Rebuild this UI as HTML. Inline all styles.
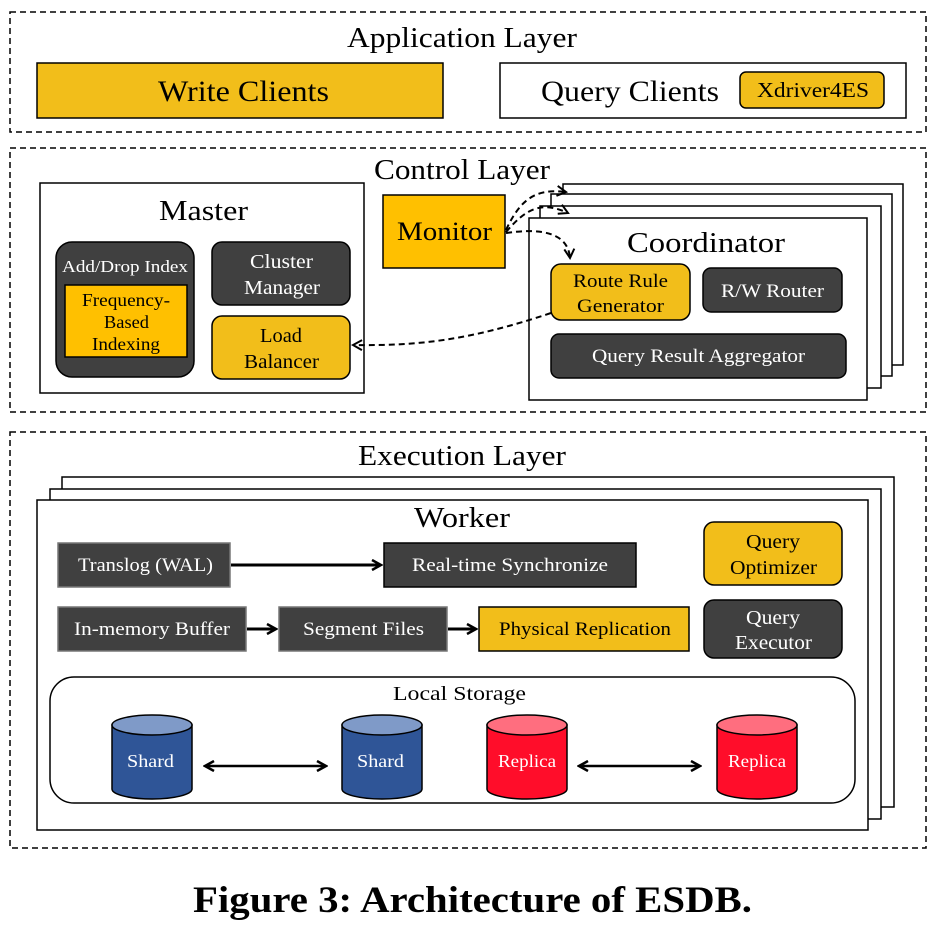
<!DOCTYPE html>
<html><head><meta charset="utf-8"><style>
html,body{margin:0;padding:0;background:#fff;}
svg{display:block;font-family:"Liberation Serif",serif;}
</style></head><body>
<svg width="932" height="925" viewBox="0 0 932 925" xmlns="http://www.w3.org/2000/svg">
<defs>
<marker id="oa" viewBox="0 0 12 12" refX="10" refY="6" markerWidth="12" markerHeight="12" markerUnits="userSpaceOnUse" orient="auto-start-reverse"><path d="M1,1 L10,6 L1,11" fill="none" stroke="#000" stroke-width="2"/></marker>
<marker id="sa" viewBox="0 0 12 12" refX="10" refY="6" markerWidth="12" markerHeight="12" markerUnits="userSpaceOnUse" orient="auto-start-reverse"><path d="M1,1 L10,6 L1,11" fill="none" stroke="#000" stroke-width="2.5"/></marker>
</defs>
<g fill="none" stroke="#000" stroke-width="1.5" stroke-dasharray="6,4">
<rect x="10" y="12" width="916" height="120"/>
<rect x="10" y="148" width="916" height="264"/>
<rect x="10" y="432" width="916" height="416"/>
</g>
<g font-size="28" lengthAdjust="spacingAndGlyphs">
<text x="347" y="47" textLength="230" lengthAdjust="spacingAndGlyphs">Application Layer</text>
<text x="374" y="179" textLength="176" lengthAdjust="spacingAndGlyphs">Control Layer</text>
<text x="358" y="465" textLength="208" lengthAdjust="spacingAndGlyphs">Execution Layer</text>
</g>
<!-- Application -->
<rect x="37" y="63" width="406" height="55" fill="#F2BE1A" stroke="#000" stroke-width="1.5"/>
<text x="158" y="101" font-size="30" textLength="171" lengthAdjust="spacingAndGlyphs">Write Clients</text>
<rect x="500" y="63" width="406" height="55" fill="#fff" stroke="#000" stroke-width="1.5"/>
<text x="541" y="101" font-size="30" textLength="178" lengthAdjust="spacingAndGlyphs">Query Clients</text>
<rect x="740" y="72" width="144" height="36" rx="6" fill="#F2BE1A" stroke="#000" stroke-width="1.5"/>
<text x="757" y="97" font-size="21" textLength="112" lengthAdjust="spacingAndGlyphs">Xdriver4ES</text>
<!-- Master -->
<rect x="40" y="183" width="324" height="210" fill="#fff" stroke="#000" stroke-width="1.5"/>
<text x="159" y="220" font-size="28" textLength="89" lengthAdjust="spacingAndGlyphs">Master</text>
<rect x="56" y="242" width="138" height="135" rx="16" fill="#404040" stroke="#000" stroke-width="1.5"/>
<text x="62" y="272" font-size="17" fill="#fff" textLength="126" lengthAdjust="spacingAndGlyphs">Add/Drop Index</text>
<rect x="65" y="285" width="122" height="72" fill="#FFC000" stroke="#000" stroke-width="1.5"/>
<g font-size="18"><text x="82" y="306" textLength="88" lengthAdjust="spacingAndGlyphs">Frequency-</text><text x="104" y="328" textLength="45" lengthAdjust="spacingAndGlyphs">Based</text><text x="92" y="350" textLength="68" lengthAdjust="spacingAndGlyphs">Indexing</text></g>
<rect x="212" y="242" width="138" height="63" rx="10" fill="#404040" stroke="#000" stroke-width="1.5"/>
<g font-size="20" fill="#fff"><text x="250" y="268" textLength="63" lengthAdjust="spacingAndGlyphs">Cluster</text><text x="244" y="294" textLength="76" lengthAdjust="spacingAndGlyphs">Manager</text></g>
<rect x="212" y="316" width="138" height="63" rx="10" fill="#F2BE1A" stroke="#000" stroke-width="1.5"/>
<g font-size="20"><text x="260" y="342" textLength="42" lengthAdjust="spacingAndGlyphs">Load</text><text x="244" y="368" textLength="75" lengthAdjust="spacingAndGlyphs">Balancer</text></g>
<!-- Monitor -->
<rect x="383" y="195" width="122" height="73" fill="#FFC000" stroke="#000" stroke-width="1.5"/>
<text x="397" y="240" font-size="26" textLength="95" lengthAdjust="spacingAndGlyphs">Monitor</text>
<!-- Coordinator stack -->
<g fill="#fff" stroke="#000" stroke-width="1.5">
<rect x="563" y="184" width="340" height="181"/>
<rect x="551" y="194" width="341" height="182"/>
<rect x="540" y="206" width="341" height="182"/>
<rect x="529" y="218" width="338" height="182"/>
</g>
<text x="627" y="252" font-size="28" textLength="158" lengthAdjust="spacingAndGlyphs">Coordinator</text>
<rect x="551" y="264" width="139" height="56" rx="10" fill="#F2BE1A" stroke="#000" stroke-width="1.5"/>
<g font-size="19"><text x="573" y="287" textLength="95" lengthAdjust="spacingAndGlyphs">Route Rule</text><text x="577" y="312" textLength="87" lengthAdjust="spacingAndGlyphs">Generator</text></g>
<rect x="703" y="268" width="139" height="44" rx="8" fill="#404040" stroke="#000" stroke-width="1.5"/>
<text x="721" y="297" font-size="19" fill="#fff" textLength="103" lengthAdjust="spacingAndGlyphs">R/W Router</text>
<rect x="551" y="334" width="295" height="44" rx="8" fill="#404040" stroke="#000" stroke-width="1.5"/>
<text x="592" y="362" font-size="19" fill="#fff" textLength="213" lengthAdjust="spacingAndGlyphs">Query Result Aggregator</text>
<!-- dashed arrows -->
<g fill="none" stroke="#000" stroke-width="2" stroke-dasharray="6,4">
<path d="M506,230 C520,200 535,188 566,192" marker-end="url(#oa)"/>
<path d="M506,232 C525,210 540,200 568,213" marker-end="url(#oa)"/>
<path d="M506,233 C540,228 568,232 570,258" marker-end="url(#oa)"/>
<path d="M551,313 C470,340 420,346 353,345" marker-end="url(#oa)"/>
</g>
<!-- Workers -->
<g fill="#fff" stroke="#000" stroke-width="1.5">
<rect x="62" y="477" width="832" height="330"/>
<rect x="50" y="489" width="831" height="330"/>
<rect x="37" y="500" width="831" height="330"/>
</g>
<text x="414" y="527" font-size="28" textLength="96" lengthAdjust="spacingAndGlyphs">Worker</text>
<g fill="#404040" stroke="#777" stroke-width="1.5">
<rect x="58" y="543" width="172" height="44"/>
<rect x="58" y="607" width="188" height="44"/>
<rect x="279" y="607" width="168" height="44"/>
</g>
<rect x="384" y="543" width="252" height="44" fill="#404040" stroke="#000" stroke-width="1.5"/>
<rect x="479" y="607" width="210" height="44" fill="#F2BE1A" stroke="#000" stroke-width="1.5"/>
<g font-size="19">
<text x="78" y="571" fill="#fff" textLength="135" lengthAdjust="spacingAndGlyphs">Translog (WAL)</text>
<text x="412" y="571" fill="#fff" textLength="196" lengthAdjust="spacingAndGlyphs">Real-time Synchronize</text>
<text x="74" y="635" fill="#fff" textLength="156" lengthAdjust="spacingAndGlyphs">In-memory Buffer</text>
<text x="303" y="635" fill="#fff" textLength="121" lengthAdjust="spacingAndGlyphs">Segment Files</text>
<text x="499" y="635" textLength="172" lengthAdjust="spacingAndGlyphs">Physical Replication</text>
</g>
<g stroke="#000" stroke-width="3" fill="none">
<line x1="231" y1="565" x2="381" y2="565" marker-end="url(#sa)"/>
<line x1="247" y1="629" x2="276" y2="629" marker-end="url(#sa)"/>
<line x1="448" y1="629" x2="476" y2="629" marker-end="url(#sa)"/>
</g>
<rect x="704" y="522" width="138" height="63" rx="10" fill="#F2BE1A" stroke="#000" stroke-width="1.5"/>
<g font-size="20"><text x="746" y="548" textLength="54" lengthAdjust="spacingAndGlyphs">Query</text><text x="730" y="574" textLength="87" lengthAdjust="spacingAndGlyphs">Optimizer</text></g>
<rect x="704" y="600" width="138" height="58" rx="10" fill="#404040" stroke="#000" stroke-width="1.5"/>
<g font-size="20" fill="#fff"><text x="746" y="624" textLength="54" lengthAdjust="spacingAndGlyphs">Query</text><text x="735" y="649" textLength="77" lengthAdjust="spacingAndGlyphs">Executor</text></g>
<!-- Local Storage -->
<rect x="50" y="677" width="805" height="126" rx="24" fill="#fff" stroke="#000" stroke-width="1.5"/>
<text x="393" y="700" font-size="20" textLength="133" lengthAdjust="spacingAndGlyphs">Local Storage</text>
<g stroke="#000" stroke-width="1.5">
<path d="M112,725 V789 A40,10 0 0 0 192,789 V725 Z" fill="#2F5597"/>
<ellipse cx="152" cy="725" rx="40" ry="10" fill="#7F9AC8"/>
<path d="M342,725 V789 A40,10 0 0 0 422,789 V725 Z" fill="#2F5597"/>
<ellipse cx="382" cy="725" rx="40" ry="10" fill="#7F9AC8"/>
<path d="M487,725 V789 A40,10 0 0 0 567,789 V725 Z" fill="#FF0D2A"/>
<ellipse cx="527" cy="725" rx="40" ry="10" fill="#FF6E7F"/>
<path d="M717,725 V789 A40,10 0 0 0 797,789 V725 Z" fill="#FF0D2A"/>
<ellipse cx="757" cy="725" rx="40" ry="10" fill="#FF6E7F"/>
</g>
<g font-size="18" fill="#fff">
<text x="127" y="767" textLength="47" lengthAdjust="spacingAndGlyphs">Shard</text><text x="357" y="767" textLength="47" lengthAdjust="spacingAndGlyphs">Shard</text>
<text x="498" y="767" textLength="58" lengthAdjust="spacingAndGlyphs">Replica</text><text x="728" y="767" textLength="58" lengthAdjust="spacingAndGlyphs">Replica</text>
</g>
<g stroke="#000" stroke-width="2.5">
<line x1="205" y1="766" x2="326" y2="766" marker-start="url(#sa)" marker-end="url(#sa)"/>
<line x1="579" y1="766" x2="700" y2="766" marker-start="url(#sa)" marker-end="url(#sa)"/>
</g>
<text x="193" y="912" font-size="37" font-weight="bold" textLength="559" lengthAdjust="spacingAndGlyphs">Figure 3: Architecture of ESDB.</text>
</svg>
</body></html>
